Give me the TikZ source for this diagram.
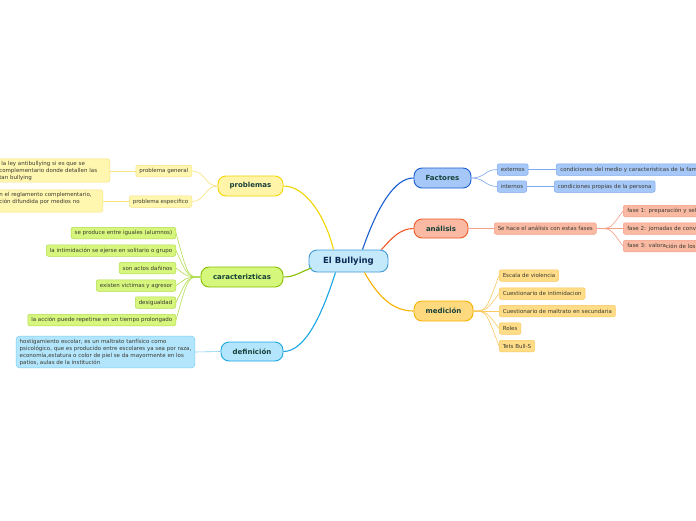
\documentclass[tikz,border=0pt]{standalone}
\usepackage{fontspec}
\setmainfont{DejaVu Sans}
\usetikzlibrary{calc}
\definecolor{cenfill}{HTML}{C4E9FB}
\definecolor{cendraw}{HTML}{3D9AD8}
\definecolor{centext}{HTML}{0D2A55}
\definecolor{maintext}{HTML}{17403A}
\definecolor{leaftext}{HTML}{3A3A30}
\definecolor{yfill}{HTML}{FFF4A8}
\definecolor{ydraw}{HTML}{F2D600}
\definecolor{ylfill}{HTML}{FFF6B0}
\definecolor{yldraw}{HTML}{F7E37E}
\definecolor{gfill}{HTML}{D4F77C}
\definecolor{gdraw}{HTML}{88BE00}
\definecolor{glfill}{HTML}{D6F67E}
\definecolor{gldraw}{HTML}{B2DC4E}
\definecolor{cfill}{HTML}{B3E5FC}
\definecolor{cdraw}{HTML}{1AA6E2}
\definecolor{cldraw}{HTML}{7CCFF4}
\definecolor{bfill}{HTML}{A6C8F8}
\definecolor{bdraw}{HTML}{1A5ED2}
\definecolor{bldraw}{HTML}{7EA8EE}
\definecolor{rfill}{HTML}{F9B9A2}
\definecolor{rdraw}{HTML}{F05A28}
\definecolor{rldraw}{HTML}{F39E86}
\definecolor{ofill}{HTML}{FFD97E}
\definecolor{odraw}{HTML}{F7B200}
\definecolor{ollfill}{HTML}{FFDC88}
\definecolor{oldraw}{HTML}{FAC95E}
\tikzset{
  mainbox/.style={draw, line width=0.9pt, rounded corners=8pt, font=\fontsize{7}{8}\selectfont\bfseries, text=maintext, minimum height=20pt, inner sep=0pt},
  leafbox/.style={draw, line width=0.5pt, rounded corners=2pt, font=\fontsize{5.5}{6.5}\selectfont, text=leaftext, minimum height=11.5pt, inner xsep=3.5pt, inner ysep=0pt},
  mainline/.style={line width=1.1pt},
  leafline/.style={line width=0.6pt}
}
\begin{document}
\begin{tikzpicture}[x=1pt,y=-1pt]
\useasboundingbox (0,0) rectangle (696,520);
\clip (0,0) rectangle (696,520);
\fill[white] (0,0) rectangle (696,520);

% central
\node[mainbox, fill=cenfill, draw=cendraw, minimum width=79pt, minimum height=22pt, font=\fontsize{8.5}{10}\selectfont\bfseries, text=centext] (cen) at (348.5,261) {El Bullying};

% main branches
\node[mainbox, fill=yfill, draw=ydraw, minimum width=65pt] (prob) at (250.5,186) {problemas};
\node[mainbox, fill=gfill, draw=gdraw, minimum width=82pt] (car) at (242,277) {caracterizticas};
\node[mainbox, fill=cfill, draw=cdraw, minimum width=62pt, minimum height=19pt] (def) at (252,351.5) {definición};
\node[mainbox, fill=bfill, draw=bdraw, minimum width=57pt] (fac) at (442.5,178) {Factores};
\node[mainbox, fill=rfill, draw=rdraw, minimum width=54pt, minimum height=19pt] (ana) at (441,228.5) {análisis};
\node[mainbox, fill=ofill, draw=odraw, minimum width=59pt] (med) at (443.5,311) {medición};

\draw[mainline, draw=ydraw] ($(cen.north)+(-15,0)$) .. controls (325,215) and (305,186) .. (prob.east);
\draw[mainline, draw=gdraw] ($(cen.west)+(3,7)$) .. controls (300,272) and (295,277) .. (car.east);
\draw[mainline, draw=cdraw] ($(cen.south)+(-13,0)$) .. controls (322,315) and (305,351.5) .. (def.east);
\draw[mainline, draw=bdraw] ($(cen.north)+(14,0)$) .. controls (378,205) and (395,178) .. (fac.west);
\draw[mainline, draw=rdraw] ($(cen.north)+(33,0)$) .. controls (392,238) and (400,228.5) .. (ana.west);
\draw[mainline, draw=odraw] ($(cen.south)+(16,0)$) .. controls (380,300) and (395,311) .. (med.west);

% problemas
\node[leafbox, fill=ylfill, draw=yldraw, anchor=east] (pg) at (192,171) {problema general};
\node[leafbox, fill=ylfill, draw=yldraw, anchor=east] (pe) at (192,201.5) {problema especifico};
\node[leafbox, fill=ylfill, draw=yldraw, anchor=east, text width=107pt, align=left, inner ysep=2pt, font=\fontsize{5.5}{7}\selectfont] (pgt) at (110,170.5) {\hspace*{2pt}la ley antibullying si es que se\\complementario donde detallen las\\tan bullying};
\node[leafbox, fill=ylfill, draw=yldraw, anchor=east, text width=100pt, align=left, inner ysep=2pt, font=\fontsize{5.5}{7}\selectfont] (pet) at (103,201) {n el reglamento complementario,\\ción difundida por medios no\\\mbox{}};
\draw[leafline, draw=yldraw] (prob.west) .. controls (205,186) and (205,171) .. (pg.east);
\draw[leafline, draw=yldraw] (prob.west) .. controls (205,186) and (205,201.5) .. (pe.east);
\draw[leafline, draw=yldraw] (pg.west) -- (pgt.east |- pg.west);
\draw[leafline, draw=yldraw] (pe.west) -- (pet.east |- pe.west);

% caracterizticas
\node[leafbox, fill=glfill, draw=gldraw, anchor=east] (c1) at (176,233) {se produce entre iguales (alumnos)};
\node[leafbox, fill=glfill, draw=gldraw, anchor=east] (c2) at (176,250.5) {la intimidación se ejerse en solitario o grupo};
\node[leafbox, fill=glfill, draw=gldraw, anchor=east] (c3) at (176,268) {son actos dañinos};
\node[leafbox, fill=glfill, draw=gldraw, anchor=east] (c4) at (176,285.5) {existen victimas y agresor};
\node[leafbox, fill=glfill, draw=gldraw, anchor=east] (c5) at (176,302.5) {desigualdad};
\node[leafbox, fill=glfill, draw=gldraw, anchor=east] (c6) at (176,320) {la acción puede repetirse en un tiempo prolongado};
\foreach \n in {c1,c2,c3,c4,c5,c6}{
  \draw[leafline, draw=gldraw] (car.west) .. controls (188,277) and (188,277) .. (\n.east);
}

% definicion
\node[leafbox, fill=cfill, draw=cldraw, anchor=east, align=left, inner ysep=2.5pt, rounded corners=3pt, font=\fontsize{5.5}{7}\selectfont] (dt) at (195,352) {hostigamiento escolar, es un maltrato tanfísico como\\psicológico, que es producido entre escolares ya sea por raza,\\economía,estatura o color de piel se da mayormente en los\\patios, aulas de la institución};
\draw[leafline, draw=cldraw] (def.west) -- (dt.east);

% factores
\node[leafbox, fill=bfill, draw=bldraw, anchor=west] (ext) at (497,169.5) {externos};
\node[leafbox, fill=bfill, draw=bldraw, anchor=west] (int) at (497,186.5) {internos};
\node[leafbox, fill=bfill, draw=bldraw, anchor=west, minimum width=170pt, align=left, text width=162pt] (cm) at (556,169.5) {condiciones del medio y caracteristicas de la fam};
\node[leafbox, fill=bfill, draw=bldraw, anchor=west] (cp) at (554,186.5) {condiciones propias de la persona};
\draw[leafline, draw=bldraw] (fac.east) .. controls (485,178) and (485,169.5) .. (ext.west);
\draw[leafline, draw=bldraw] (fac.east) .. controls (485,178) and (485,186.5) .. (int.west);
\draw[leafline, draw=bldraw] (ext.east) -- (cm.west);
\draw[leafline, draw=bldraw] (int.east) -- (cp.west);

% analisis
\node[leafbox, fill=rfill, draw=rldraw, anchor=west] (se) at (494,228.5) {Se hace el análisis con estas fases};
\node[leafbox, fill=rfill, draw=rldraw, anchor=west, minimum width=90pt, align=left, text width=82pt] (f1) at (623,211) {fase 1: prepa\raisebox{-0.8pt}{ración y sel}};
\node[leafbox, fill=rfill, draw=rldraw, anchor=west, minimum width=90pt, align=left, text width=82pt] (f2) at (623,228.5) {fase 2: jornadas de conv};
\node[leafbox, fill=rfill, draw=rldraw, anchor=west, minimum width=90pt, align=left, text width=82pt] (f3) at (623,246) {fase 3: valora\raisebox{-0.8pt}{ción de los}};
\draw[leafline, draw=rldraw] (ana.east) -- (se.west);
\foreach \n in {f1,f2,f3}{
  \draw[leafline, draw=rldraw] (se.east) .. controls (612,228.5) and (610,228.5) .. (\n.west);
}

% medicion
\node[leafbox, fill=ollfill, draw=oldraw, anchor=west] (m1) at (499,275.5) {Escala de violencia};
\node[leafbox, fill=ollfill, draw=oldraw, anchor=west] (m2) at (499,293.5) {Cuestionario de intimidacion};
\node[leafbox, fill=ollfill, draw=oldraw, anchor=west] (m3) at (499,311) {Cuestionario de maltrato en secundaria};
\node[leafbox, fill=ollfill, draw=oldraw, anchor=west] (m4) at (499,328.5) {Roles};
\node[leafbox, fill=ollfill, draw=oldraw, anchor=west] (m5) at (499,346) {Tets Bull-S};
\foreach \n in {m1,m2,m3,m4,m5}{
  \draw[leafline, draw=oldraw] (med.east) .. controls (486,311) and (486,311) .. (\n.west);
}
\end{tikzpicture}
\end{document}
